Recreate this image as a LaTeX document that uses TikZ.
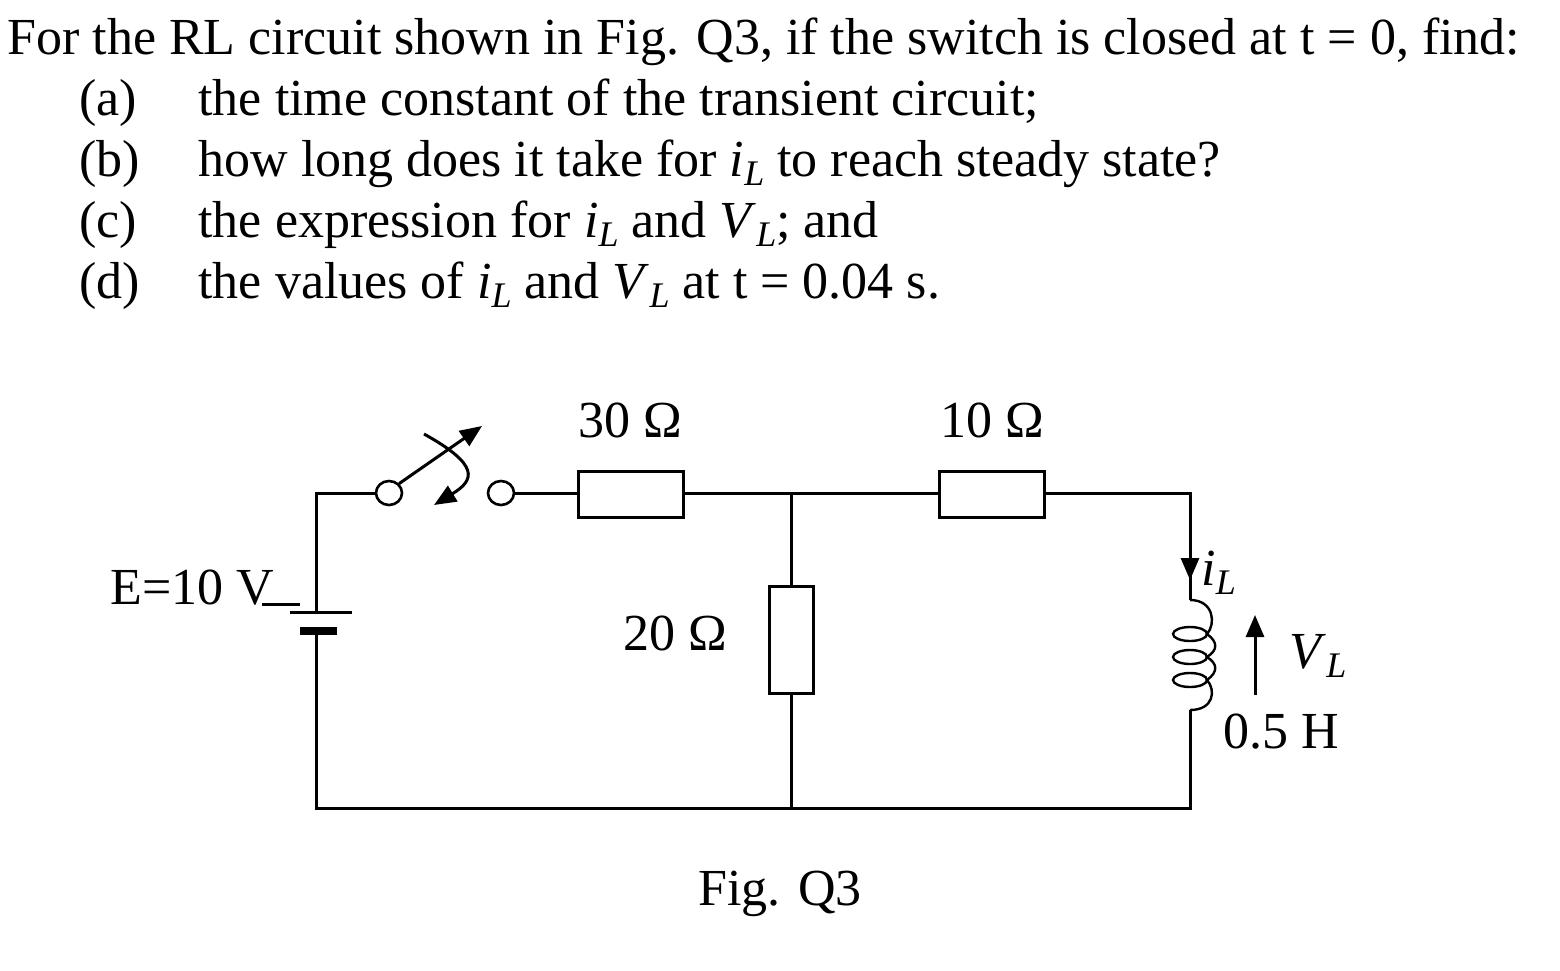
\documentclass[tikz,border=0pt]{standalone}
\usepackage{fontspec}
\setmainfont{Liberation Serif}
\usetikzlibrary{arrows.meta,shapes.geometric}
\newcommand{\myIL}{\textit{i}\raisebox{-0.18em}{\fontsize{36}{36}\selectfont\itshape L}}
\newcommand{\myVL}{\textit{V}\raisebox{-0.18em}{\fontsize{36}{36}\selectfont\itshape L}}
\begin{document}
\begin{tikzpicture}[x=1pt,y=-1pt,line width=3pt,
  txt/.style={inner sep=0pt,font=\fontsize{52}{60}\selectfont},
  res/.style={draw,line width=3pt,fill=white,inner sep=0pt},
  term/.style={draw,ellipse,line width=2.6pt,fill=white,minimum width=26pt,minimum height=24pt,inner sep=0pt},
  arr/.style={-{Triangle[length=22pt,width=18pt]}}]
\useasboundingbox (0,0) rectangle (1560,970);
\node[txt,anchor=base west] (t0) at (6,54) {For the RL circuit shown in Fig. Q3, if the switch is closed at t = 0, find:};
\node[txt,anchor=base west] (la) at (78,115) {(a)};
\node[txt,anchor=base west] (ta) at (197,115) {the time constant of the transient circuit;};
\node[txt,anchor=base west] (lb) at (78,176) {(b)};
\node[txt,anchor=base west] (tb) at (197,176) {how long does it take for \myIL{} to reach steady state?};
\node[txt,anchor=base west] (lc) at (78,237) {(c)};
\node[txt,anchor=base west] (tc) at (197,237) {the expression for \myIL{} and \myVL; and};
\node[txt,anchor=base west] (ld) at (78,298) {(d)};
\node[txt,anchor=base west] (td) at (197,298) {the values of \myIL{} and \myVL{} at t = 0.04 s.};
% coordinates
\coordinate (tl) at (316,493);
\coordinate (bl) at (316,808);
\coordinate (tm) at (791,493);
\coordinate (bm) at (791,808);
\coordinate (tr) at (1190,493);
\coordinate (br) at (1190,808);
\coordinate (bp) at (316,612);
\coordinate (bn) at (316,631);
\coordinate (ct) at (1190,600);
\coordinate (cb) at (1190,710);
% wires
\draw (bp) -- (tl) -- (389,493);
\draw (501,493) -- (tr) -- (ct);
\draw (tm) -- (bm);
\draw (bn) -- (bl) -- (br) -- (cb);
% battery
\draw (290,612) -- (352,612);
\draw[line width=8pt] (300,631) -- (337,631);
\draw (262,604) -- (300,604);
\node[txt,anchor=base east] (E) at (276,604) {E=10 V};
% switch
\node[term] (s1) at (389,493) {};
\node[term] (s2) at (501,493) {};
\draw[arr] (s1.north east) -- (482,426);
\draw[arr] (424,434) .. controls (480,465) and (475,480) .. (434,505);
% resistors
\node[res,minimum width=105pt,minimum height=46pt] (r30) at (631,494) {};
\node[res,minimum width=105pt,minimum height=46pt] (r10) at (992,494) {};
\node[res,minimum width=44pt,minimum height=107pt] (r20) at (791,640) {};
\node[txt,anchor=base] (l30) at (630,437) {30 Ω};
\node[txt,anchor=base] (l10) at (992,437) {10 Ω};
\node[txt,anchor=base] (l20) at (675,650) {20 Ω};
% inductor
\begin{scope}[line width=2.4pt]
\draw (ct) .. controls (1214,600) and (1216,624) .. (1207,634)
 .. controls (1218,642) and (1218,650) .. (1207,657)
 .. controls (1218,664) and (1218,672) .. (1207,680)
 .. controls (1216,690) and (1214,710) .. (cb);
\draw (1190,634) ellipse [x radius=17, y radius=7];
\draw (1190,657) ellipse [x radius=17, y radius=7];
\draw (1190,680) ellipse [x radius=17, y radius=7];
\end{scope}
\draw[arr] (1190,540) -- (1190,580);
\node[txt,anchor=base west] (il) at (1200,585) {\myIL};
\draw[arr] (1255,695) -- (1255,615);
\node[txt,anchor=base west] (vl) at (1288,668) {\myVL};
\node[txt,anchor=base west] (lh) at (1222,748) {0.5 H};
\node[txt,anchor=base] (fig) at (780,905) {Fig. Q3};
\end{tikzpicture}
\end{document}
